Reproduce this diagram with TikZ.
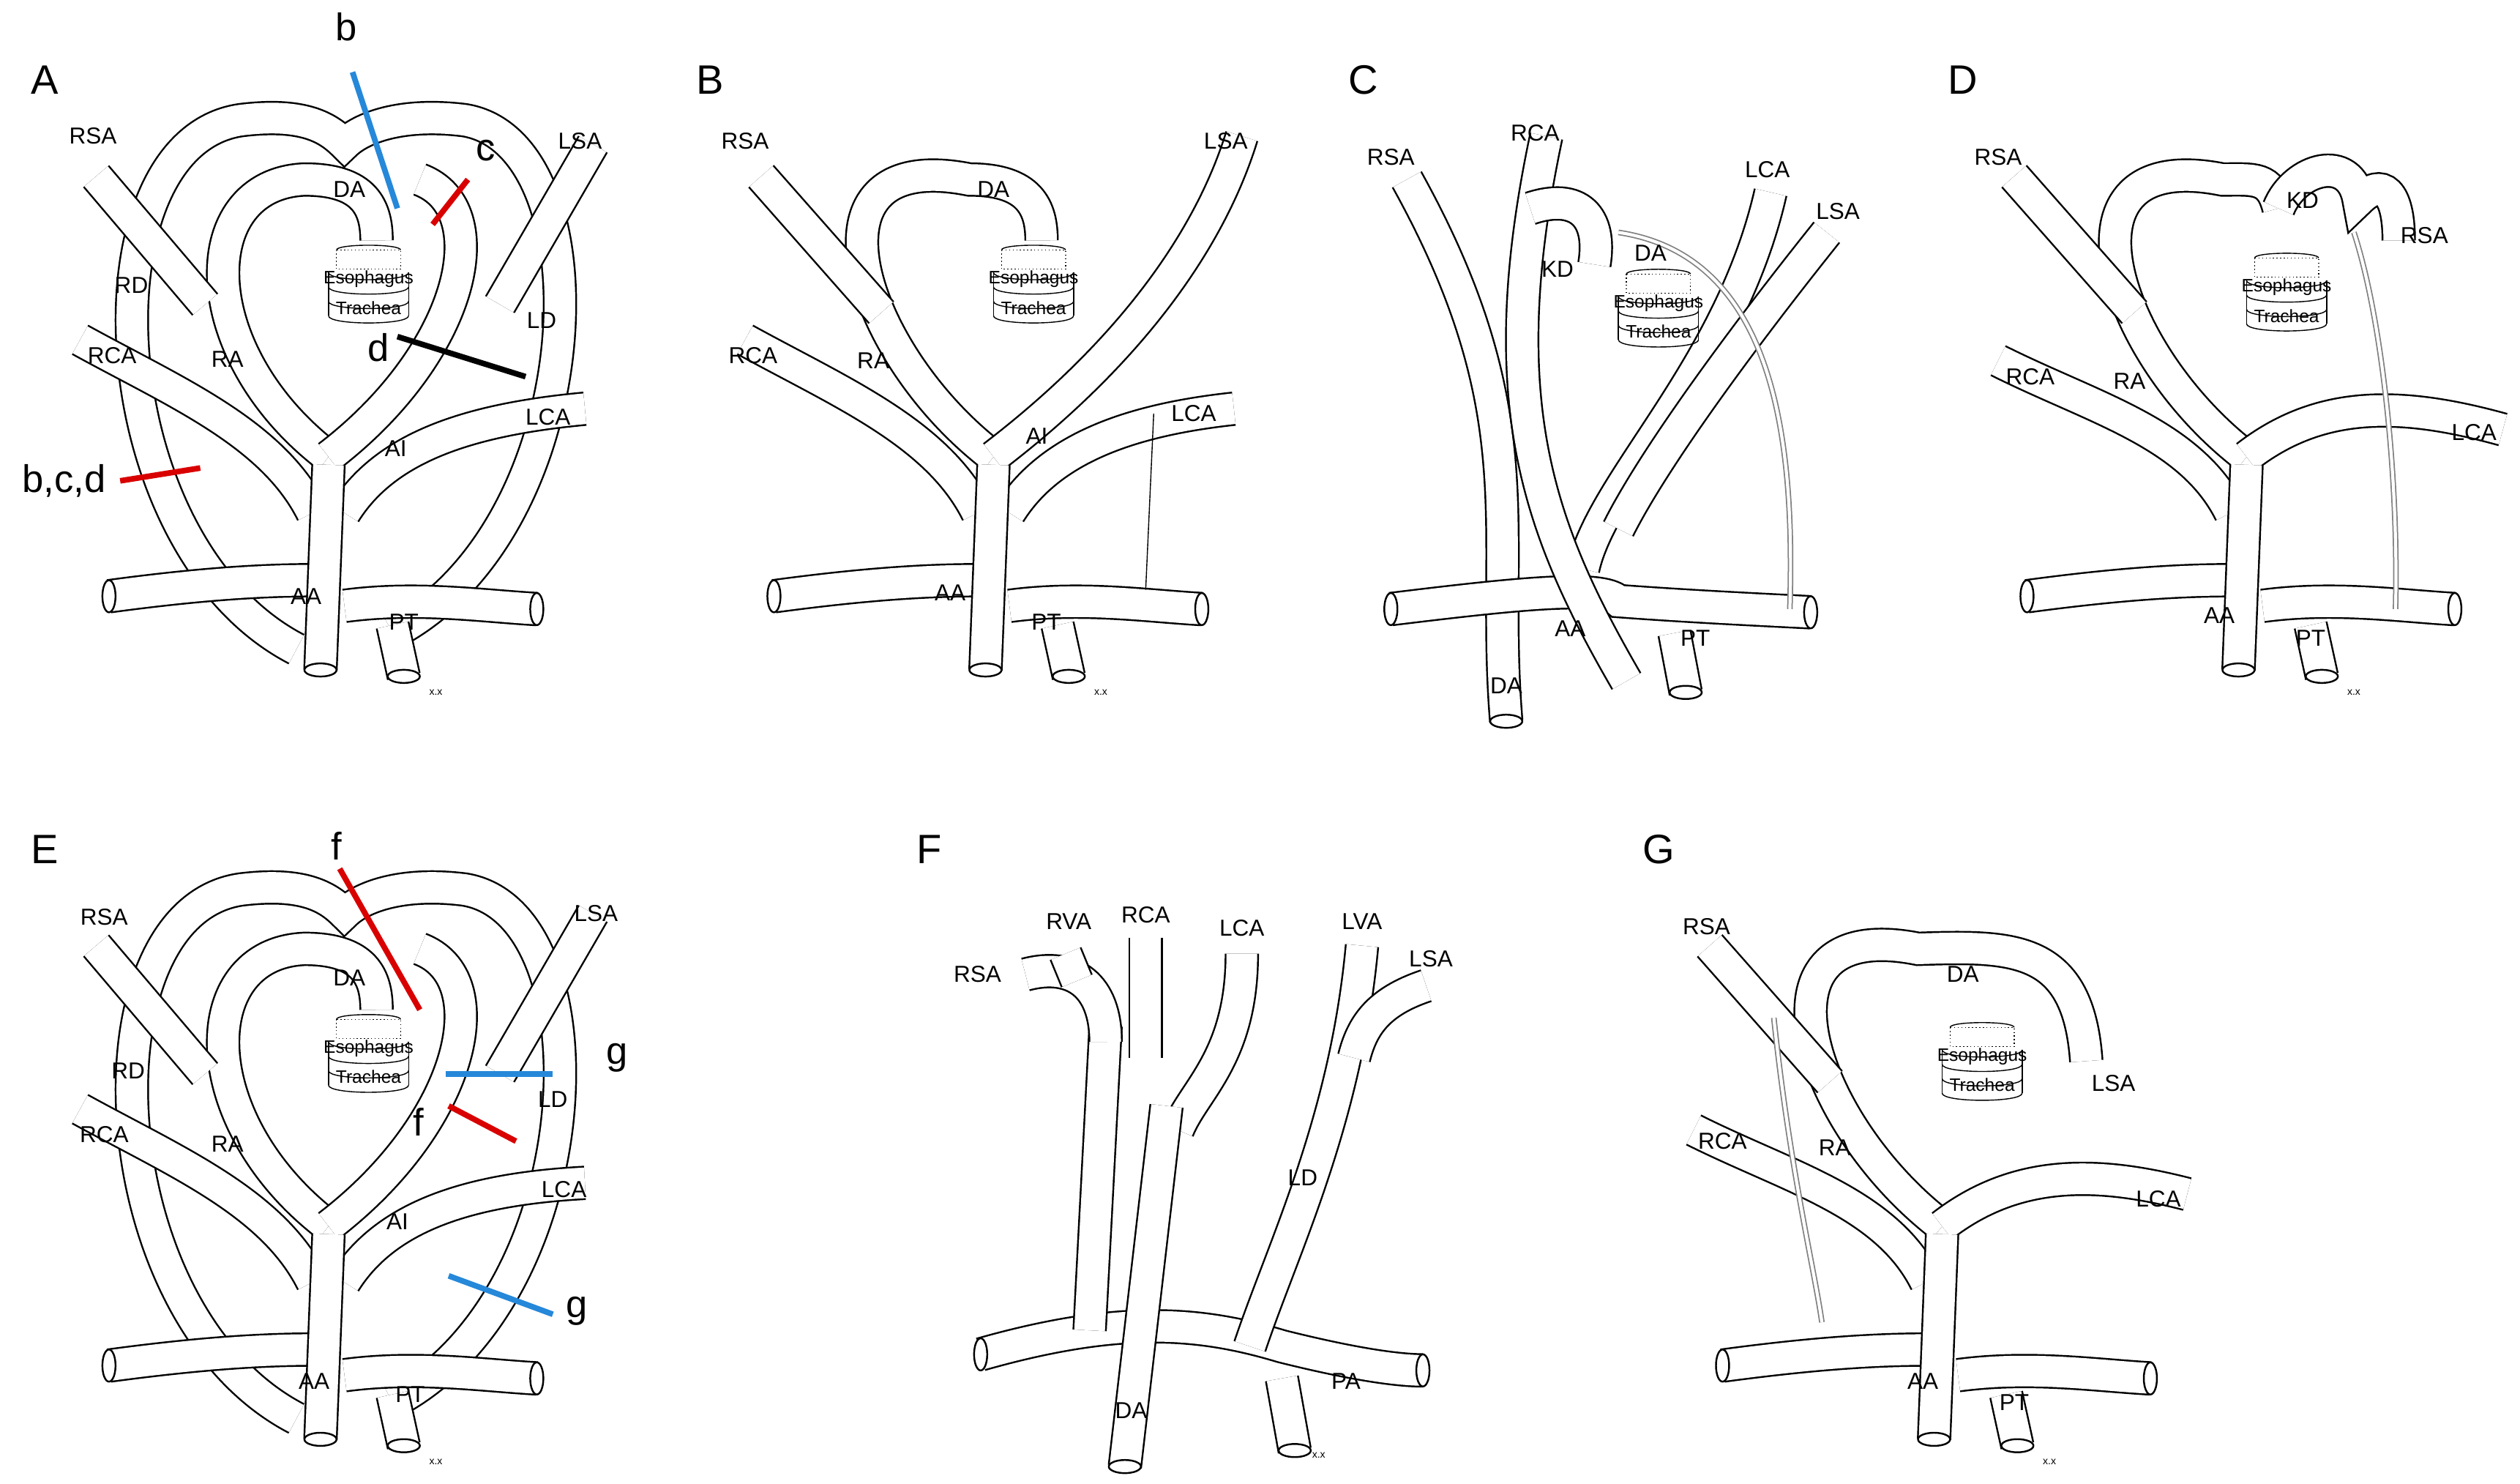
\documentclass[tikz,border=0pt]{standalone}
\usepackage{fontspec}
\setmainfont{Liberation Sans}
\begin{document}
\begin{tikzpicture}[
        x=0.02196cm, y=-0.02196cm,
        font=\fontsize{9}{10}\selectfont
    ]
    \tikzset{
        vessel/.style = {double=white, double distance=0.42cm, line width=0.7pt, line cap=butt},
        thinv/.style = {double=white, double distance=1.2pt, line width=0.5pt, draw=gray},
        panel/.style = {font=\fontsize{16}{18}\selectfont},
        cutlbl/.style = {font=\fontsize{15}{17}\selectfont},
        redbar/.style = {line width=2.2pt, red!85!black},
        bluebar/.style = {line width=2.2pt, blue!45!cyan!70!gray},
        vcap/.style = {draw, fill=white, line width=0.7pt, x radius=0.09cm, y radius=0.22cm},
        hcap/.style = {draw, fill=white, line width=0.7pt, x radius=0.22cm, y radius=0.09cm},
        esotra/.pic = {
            \draw[densely dotted] (-20,-14) rectangle (20,-2);
            \draw (-20,-14) .. controls (-20,-18) and (20,-18) .. (20,-14);
            \foreach \yy in {0,9,18,27}
                \draw (-25,\yy) .. controls (-25,\yy+6) and (25,\yy+6) .. (25,\yy);
            \draw (-25,0) -- (-25,27) (25,0) -- (25,27);
            \node[font=\fontsize{7}{8}\selectfont] at (0,4) {Esophagus};
            \node[font=\fontsize{7}{8}\selectfont] at (0,22) {Trachea};
        },
        trunk/.pic = {
            \draw[vessel] (68,372) .. controls (120,365) and (160,362) .. (195,362);
            \draw[vessel] (215,378) .. controls (260,372) and (300,378) .. (335,380);
            \draw[vessel] (245,390) -- (252,422);
            \draw[vessel] (205,290) -- (200,418);
            \path[vcap] (68,372) ellipse [];
            \path[vcap] (335,380) ellipse [];
            \path[hcap] (200,418) ellipse [];
            \path[hcap] (252,422) ellipse [];
            \node[font=\fontsize{4}{4}\selectfont] at (272,432) {x.x};
        },
        ringarch/.pic = {
            \draw[vessel] (185,405) .. controls (60,340) and (50,90) .. (150,75)
                .. controls (190,70) and (205,80) .. (215,90)
                .. controls (225,80) and (250,70) .. (290,75)
                .. controls (380,90) and (370,330) .. (245,395);
            \draw[vessel] (205,285) .. controls (120,220) and (120,115) .. (190,112)
                .. controls (228,112) and (235,130) .. (235,150);
            \draw[vessel] (205,285) .. controls (290,220) and (310,130) .. (262,112);
        },
    }
    % ---------- A ----------
    \node[panel] (la) at (28,50) {A};
    \pic (ara) at (0,0) {ringarch};
    \draw[vessel] (60,110) -- (128,190);
    \draw[vessel] (370,90) -- (312,190);
    \draw[vessel] (50,212) .. controls (110,245) and (170,270) .. (195,320);
    \draw[vessel] (365,255) .. controls (290,262) and (240,280) .. (215,320);
    \pic (atr) at (0,0) {trunk};
    \pic (aet) at (230,170) {esotra};
    \node (arsa) at (58,85) {RSA};
    \node (alsa) at (362,88) {LSA};
    \node (ada) at (218,118) {DA};
    \node (ard) at (82,178) {RD};
    \node (ara2) at (142,224) {RA};
    \node (ald) at (338,200) {LD};
    \node (arca) at (70,222) {RCA};
    \node (alca) at (342,260) {LCA};
    \node (aai) at (247,280) {AI};
    \node (aaa) at (191,372) {AA};
    \node (apt) at (252,388) {PT};
    \coordinate (ab1) at (220,45); \coordinate (ab2) at (248,130);
    \draw[bluebar] (ab1) -- (ab2);
    \coordinate (ac1) at (292,112); \coordinate (ac2) at (270,140);
    \draw[redbar] (ac1) -- (ac2);
    \coordinate (ad1) at (248,210); \coordinate (ad2) at (328,235);
    \draw[line width=2.2pt] (ad1) -- (ad2);
    \coordinate (ae1) at (75,300); \coordinate (ae2) at (125,292);
    \draw[redbar] (ae1) -- (ae2);
    \node[cutlbl] (mb) at (216,17) {b};
    \node[cutlbl] (mc) at (303,94) {c};
    \node[cutlbl] (md) at (236,217) {d};
    \node[cutlbl] (mbcd) at (40,300) {b,c,d};
    % ---------- B ----------
    \begin{scope}[shift={(415,0)}]
    \node[panel] (lb) at (28,50) {B};
    \draw[vessel] (205,285) .. controls (120,220) and (80,90) .. (190,112)
        .. controls (228,112) and (235,130) .. (235,150);
    \draw[vessel] (205,285) .. controls (290,220) and (340,150) .. (360,85);
    \draw[vessel] (60,110) -- (135,195);
    \draw[vessel] (50,212) .. controls (110,245) and (170,270) .. (195,320);
    \draw[vessel] (355,255) .. controls (290,262) and (240,280) .. (215,320);
    \pic (btr) at (0,0) {trunk};
    \pic (bet) at (230,170) {esotra};
    \coordinate (bd1) at (305,258); \coordinate (bd2) at (300,368);
    \draw (bd1) -- (bd2);
    \node (brsa) at (50,88) {RSA};
    \node (blsa) at (350,88) {LSA};
    \node (bda) at (205,118) {DA};
    \node (bra) at (130,225) {RA};
    \node (brca) at (55,222) {RCA};
    \node (blca) at (330,258) {LCA};
    \node (bai) at (232,272) {AI};
    \node (baa) at (178,370) {AA};
    \node (bpt) at (238,388) {PT};
    \end{scope}
    % ---------- C ----------
    \node[panel] (lc) at (851,50) {C};
    \draw[vessel] (878,112) .. controls (960,260) and (930,330) .. (940,450);
    \draw[vessel] (1105,120) .. controls (1080,230) and (1000,300) .. (988,355);
    \draw[vessel] (1140,145) .. controls (1080,220) and (1030,290) .. (1010,330);
    \draw[vessel] (868,380) .. controls (950,370) and (1000,365) .. (1010,375)
        .. controls (1050,378) and (1090,380) .. (1130,382);
    \draw[vessel] (965,85) .. controls (930,250) and (960,330) .. (1015,425);
    \draw[vessel] (1045,395) -- (1052,432);
    \draw[vessel] (955,130) .. controls (985,120) and (1000,135) .. (995,165);
    \path[vcap] (868,380) ellipse [];
    \path[vcap] (1130,382) ellipse [];
    \path[hcap] (940,450) ellipse [];
    \path[hcap] (1052,432) ellipse [];
    \pic (cet) at (1035,185) {esotra};
    \draw[thinv] (1010,145) .. controls (1110,160) and (1120,280) .. (1117,380);
    \node (crsa) at (868,98) {RSA};
    \node (crca) at (958,83) {RCA};
    \node (cda) at (1030,158) {DA};
    \node (ckd) at (972,168) {KD};
    \node (clca) at (1103,106) {LCA};
    \node (clsa) at (1147,132) {LSA};
    \node (cda2) at (940,428) {DA};
    \node (caa) at (980,392) {AA};
    \node (cpt) at (1058,398) {PT};
    % ---------- D ----------
    \begin{scope}[shift={(1197,0)}]
    \node[panel] (ld) at (28,50) {D};
    \draw[vessel] (205,285) .. controls (120,220) and (80,90) .. (190,112)
        .. controls (210,112) and (220,110) .. (225,130);
    \draw[vessel] (205,285) .. controls (250,250) and (300,250) .. (365,268);
    \draw[vessel] (225,130) .. controls (235,105) and (270,95) .. (275,125)
        .. controls (290,110) and (300,120) .. (300,150);
    \draw[vessel] (60,110) -- (135,195);
    \draw[vessel] (50,225) .. controls (110,255) and (170,270) .. (195,320);
    \pic (dtr) at (0,0) {trunk};
    \pic (det) at (230,175) {esotra};
    \draw[thinv] (272,145) .. controls (290,200) and (300,300) .. (298,380);
    \node (drsa) at (50,98) {RSA};
    \node (drsa2) at (316,147) {RSA};
    \node (dkd) at (240,125) {KD};
    \node (drca) at (70,235) {RCA};
    \node (dra) at (132,238) {RA};
    \node (dlca) at (347,270) {LCA};
    \node (daa) at (188,384) {AA};
    \node (dpt) at (245,398) {PT};
    \end{scope}
    % ---------- E ----------
    \begin{scope}[shift={(0,480)}]
    \node[panel] (le) at (28,50) {E};
    \pic (era) at (0,0) {ringarch};
    \draw[vessel] (60,110) -- (128,190);
    \draw[vessel] (370,90) -- (312,190);
    \draw[vessel] (50,212) .. controls (110,245) and (170,270) .. (195,320);
    \draw[vessel] (365,258) .. controls (290,262) and (240,280) .. (215,320);
    \pic (etr) at (0,0) {trunk};
    \pic (eet) at (230,170) {esotra};
    \node (ersa) at (65,92) {RSA};
    \node (elsa) at (372,90) {LSA};
    \node (eda) at (218,130) {DA};
    \node (erd) at (80,188) {RD};
    \node (era2) at (142,234) {RA};
    \node (eld) at (345,206) {LD};
    \node (erca) at (65,228) {RCA};
    \node (elca) at (352,262) {LCA};
    \node (eai) at (248,282) {AI};
    \node (eaa) at (196,382) {AA};
    \node (ept) at (256,390) {PT};
    \coordinate (ef1) at (212,62); \coordinate (ef2) at (262,150);
    \draw[redbar] (ef1) -- (ef2);
    \coordinate (eg1) at (278,190); \coordinate (eg2) at (345,190);
    \draw[bluebar] (eg1) -- (eg2);
    \coordinate (ef3) at (280,210); \coordinate (ef4) at (322,232);
    \draw[redbar] (ef3) -- (ef4);
    \coordinate (eg3) at (280,316); \coordinate (eg4) at (345,340);
    \draw[bluebar] (eg3) -- (eg4);
    \node[cutlbl] (mf) at (210,48) {f};
    \node[cutlbl] (mg) at (385,180) {g};
    \node[cutlbl] (mf2) at (261,220) {f};
    \node[cutlbl] (mg2) at (360,338) {g};
    \end{scope}
    % ---------- F ----------
    \node[panel] (lf) at (580,530) {F};
    \draw[vessel] (612,845) .. controls (700,820) and (750,825) .. (800,840)
        .. controls (840,850) and (870,855) .. (888,855);
    \draw[vessel] (850,590) .. controls (840,700) and (800,780) .. (780,840);
    \draw[vessel] (890,615) .. controls (860,625) and (850,640) .. (845,660);
    \draw[vessel] (775,595) .. controls (775,660) and (745,680) .. (735,705);
    \draw[vessel] (715,585) -- (715,660);
    \draw[vessel] (690,640) -- (680,830);
    \draw[vessel] (640,608) .. controls (670,600) and (690,615) .. (690,650);
    \draw[vessel] (665,595) -- (672,612);
    \draw[vessel] (728,690) -- (702,915);
    \draw[vessel] (800,860) -- (808,905);
    \path[vcap] (612,845) ellipse [];
    \path[vcap] (888,855) ellipse [];
    \path[hcap] (702,915) ellipse [];
    \path[hcap] (808,905) ellipse [];
    \node (fvra) at (667,575) {RVA};
    \node (frca) at (715,571) {RCA};
    \node (flca) at (775,579) {LCA};
    \node (flva) at (850,575) {LVA};
    \node (flsa) at (893,598) {LSA};
    \node (frsa) at (610,608) {RSA};
    \node (fld) at (813,735) {LD};
    \node (fda) at (706,880) {DA};
    \node (fpa) at (840,862) {PA};
    \node[font=\fontsize{4}{4}\selectfont] (fxx) at (823,908) {x.x};
    % ---------- G ----------
    \begin{scope}[shift={(1007,480)}]
    \node[panel] (lg) at (28,50) {G};
    \draw[vessel] (205,285) .. controls (120,220) and (80,90) .. (190,112)
        .. controls (250,110) and (290,110) .. (295,182);
    \draw[vessel] (205,285) .. controls (250,250) and (300,250) .. (358,265);
    \draw[vessel] (60,110) -- (135,195);
    \draw[vessel] (50,225) .. controls (110,255) and (170,270) .. (195,320);
    \draw[thinv] (100,155) .. controls (110,250) and (125,310) .. (130,345);
    \pic (gtr) at (0,0) {trunk};
    \pic (get) at (230,175) {esotra};
    \node (grsa) at (58,98) {RSA};
    \node (gda) at (218,128) {DA};
    \node (glsa) at (312,196) {LSA};
    \node (grca) at (68,232) {RCA};
    \node (gra) at (138,236) {RA};
    \node (glca) at (340,268) {LCA};
    \node (gaa) at (193,382) {AA};
    \node (gpt) at (250,395) {PT};
    \end{scope}
    \useasboundingbox (0,0) rectangle (1568,925);
\end{tikzpicture}
\end{document}
